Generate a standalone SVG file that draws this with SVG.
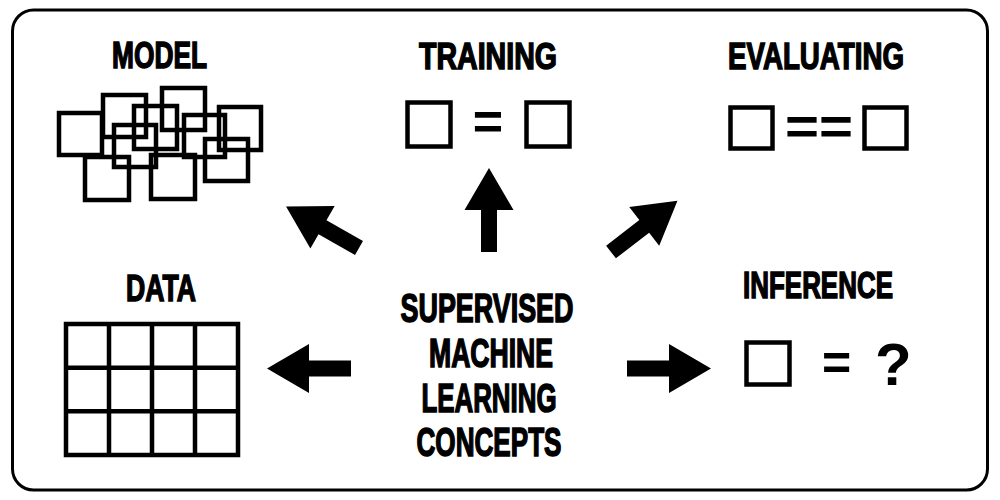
<svg xmlns="http://www.w3.org/2000/svg" xmlns:xlink="http://www.w3.org/1999/xlink" width="1000" height="500" viewBox="0 0 1000 500">
<style>
.title{font-family:"Liberation Sans",Arial,sans-serif;font-weight:bold;font-size:36px;fill:#000;stroke:#000;stroke-width:1.5;text-anchor:middle}
.center{font-family:"Liberation Sans",Arial,sans-serif;font-weight:bold;font-size:41px;fill:#000;stroke:#000;stroke-width:1.6;text-anchor:middle}
.sym{font-family:"Liberation Sans",Arial,sans-serif;font-weight:bold;fill:#000}
.box{fill:none;stroke:#000;stroke-width:4.5}
.arrow{fill:#000}
</style>
<defs>
<path id="arr" d="M0,-8 H42 V-24.5 L84,0 L42,24.5 V8 H0 Z"/>
</defs>
<rect x="12.5" y="10" width="975" height="480" rx="21" ry="21" fill="#fff" stroke="#000" stroke-width="3"/>

<g id="center">
<text class="center" x="487" y="322" textLength="173" lengthAdjust="spacingAndGlyphs">SUPERVISED</text>
<text class="center" x="491" y="367" textLength="124" lengthAdjust="spacingAndGlyphs">MACHINE</text>
<text class="center" x="489" y="412" textLength="135" lengthAdjust="spacingAndGlyphs">LEARNING</text>
<text class="center" x="489" y="456" textLength="145" lengthAdjust="spacingAndGlyphs">CONCEPTS</text>
</g>

<g id="model">
<text class="title" x="159.5" y="68" textLength="95" lengthAdjust="spacingAndGlyphs">MODEL</text>
<rect class="box" x="59" y="113" width="43" height="42"/>
<rect class="box" x="103" y="95" width="43" height="42"/>
<rect class="box" x="162" y="88" width="43" height="42"/>
<rect class="box" x="134" y="106" width="43" height="43"/>
<rect class="box" x="114" y="125" width="42" height="42"/>
<rect class="box" x="184" y="115" width="41" height="42"/>
<rect class="box" x="219" y="107" width="42" height="43"/>
<rect class="box" x="205" y="139" width="43" height="42"/>
<rect class="box" x="85" y="157" width="44" height="43"/>
<rect class="box" x="151" y="155" width="44" height="44"/>
</g>

<g id="training">
<text class="title" x="488" y="69" textLength="138" lengthAdjust="spacingAndGlyphs">TRAINING</text>
<rect class="box" x="407.5" y="102.5" width="43" height="44"/>
<text class="sym" x="488" y="138.5" font-size="52" text-anchor="middle">=</text>
<rect class="box" x="526.5" y="102.5" width="43" height="44"/>
</g>

<g id="evaluating">
<text class="title" x="816" y="69" textLength="176" lengthAdjust="spacingAndGlyphs">EVALUATING</text>
<rect class="box" x="730.5" y="107.5" width="42" height="41"/>
<text class="sym" x="819" y="144" font-size="52" text-anchor="middle" textLength="68" lengthAdjust="spacingAndGlyphs">==</text>
<rect class="box" x="864.5" y="107.5" width="42" height="41"/>
</g>

<g id="data">
<text class="title" x="161" y="301" textLength="70" lengthAdjust="spacingAndGlyphs">DATA</text>
<rect class="box" x="66" y="324" width="172" height="131"/>
<line class="box" x1="109" y1="324" x2="109" y2="455"/>
<line class="box" x1="152" y1="324" x2="152" y2="455"/>
<line class="box" x1="195" y1="324" x2="195" y2="455"/>
<line class="box" x1="66" y1="367.7" x2="238" y2="367.7"/>
<line class="box" x1="66" y1="411.3" x2="238" y2="411.3"/>
</g>

<g id="inference">
<text class="title" x="818" y="298" textLength="150" lengthAdjust="spacingAndGlyphs">INFERENCE</text>
<rect class="box" x="746.5" y="342.5" width="43" height="42"/>
<text class="sym" x="836.5" y="379.5" font-size="50" text-anchor="middle">=</text>
<text class="sym" x="875" y="385" font-size="60">?</text>
</g>

<g id="connectors">
<use class="arrow" xlink:href="#arr" transform="translate(359,248) rotate(-150.3)"/>
<use class="arrow" xlink:href="#arr" transform="translate(489,252) rotate(-90)"/>
<use class="arrow" xlink:href="#arr" transform="translate(611,252) rotate(-37.7)"/>
<use class="arrow" xlink:href="#arr" transform="translate(351,368.5) rotate(180)"/>
<use class="arrow" xlink:href="#arr" transform="translate(627,368.5)"/>
</g>
</svg>
